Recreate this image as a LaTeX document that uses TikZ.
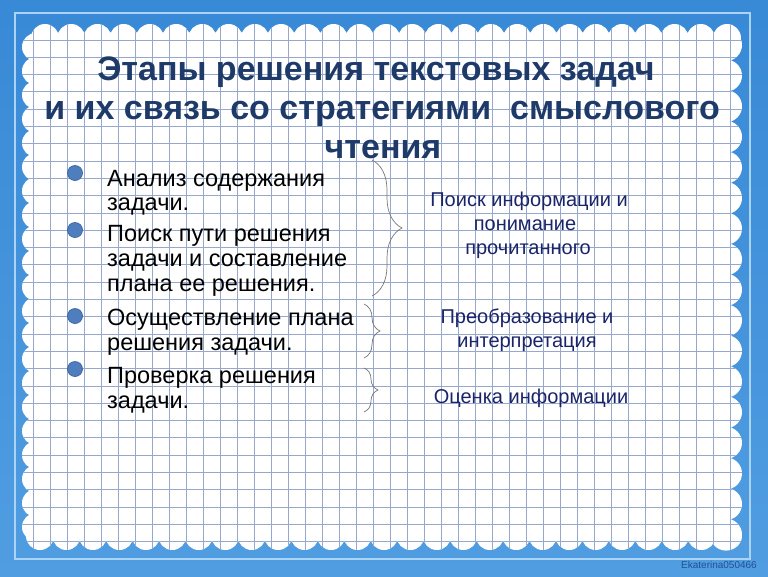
\documentclass[tikz,border=0pt]{standalone}
\usepackage{fontspec}
\setmainfont{Liberation Sans}
\usetikzlibrary{decorations.pathreplacing}
\definecolor{bgtop}{RGB}{56,137,214}
\definecolor{bgbot}{RGB}{80,157,225}
\definecolor{frameline}{RGB}{170,212,245}
\definecolor{gridc}{RGB}{150,168,205}
\definecolor{titlec}{RGB}{30,58,104}
\definecolor{rightc}{RGB}{26,36,105}
\definecolor{bulletc}{RGB}{79,126,190}
\definecolor{bulletd}{RGB}{60,100,160}
\definecolor{bracec}{RGB}{120,120,120}
\definecolor{markc}{RGB}{35,80,145}
\begin{document}
\begin{tikzpicture}[x=1pt,y=-1pt,
  titletext/.style={font=\fontsize{34}{39}\selectfont\bfseries, text=titlec, inner sep=0pt, anchor=base},
  itemtext/.style={font=\fontsize{23.5}{25.5}\selectfont, text=black, inner sep=0pt, anchor=base west},
  ruletext/.style={font=\fontsize{20}{24}\selectfont, text=rightc, inner sep=0pt, anchor=base},
  bulletdot/.style={circle, fill=bulletc, draw=bulletd, line width=0.7pt, minimum size=15pt, inner sep=0pt},
  bracelink/.style={draw=bracec, line width=0.7pt, decorate, decoration={brace, amplitude=#1}},
  gridline/.style={draw=gridc, line width=0.9pt},
]
\useasboundingbox (0,0) rectangle (768,576);
\shade[top color=bgtop, bottom color=bgbot] (0,0) rectangle (768,576);
\draw[frameline, line width=1.2pt] (15,13) rectangle (750,559);

% paper: rectangle + scallops
\fill[white] (36,38) rectangle (728,536);
\fill[white]
  foreach \i in {0,...,26} { (45+26.23*\i,38) circle (14) }
  foreach \i in {0,...,26} { (40+26.46*\i,536) circle (14) }
  foreach \i in {0,...,20} { (36,47+24*\i) circle (14) }
  foreach \i in {0,...,16} { (726,45+30.6*\i) circle (16) };

% grid clipped to rectangle
\begin{scope}
  \clip (36,38) rectangle (728,536);
  \foreach \k in {0,...,41} \draw[gridline] (33+17*\k,20) -- (33+17*\k,556);
  \foreach \k in {0,...,29} \draw[gridline] (18,40+17.3*\k) -- (746,40+17.3*\k);
\end{scope}
% grid clipped to scallops
\begin{scope}
  \clip
  foreach \i in {0,...,26} { (45+26.23*\i,38) circle (14) }
  foreach \i in {0,...,26} { (40+26.46*\i,536) circle (14) }
  foreach \i in {0,...,20} { (36,47+24*\i) circle (14) }
  foreach \i in {0,...,16} { (726,45+30.6*\i) circle (16) };
  \foreach \k in {0,...,41} \draw[gridline] (33+17*\k,20) -- (33+17*\k,556);
  \foreach \k in {0,...,29} \draw[gridline] (18,40+17.3*\k) -- (746,40+17.3*\k);
\end{scope}

% title
\node[titletext] (title1) at (376,80) {Этапы решения текстовых задач};
\node[titletext] (title2) at (382,119) {и их связь со стратегиями\ \ смыслового};
\node[titletext] (title3) at (383,158) {чтения};

% bullets
\node[bulletdot] (b1) at (75,173) {};
\node[bulletdot] (b2) at (75,230) {};
\node[bulletdot] (b3) at (75,316) {};
\node[bulletdot] (b4) at (75,369) {};

% items
\node[itemtext] (s1a) at (107,186) {Анализ содержания};
\node[itemtext] (s1b) at (107,210) {задачи.};
\node[itemtext] (s2a) at (107,241) {Поиск пути решения};
\node[itemtext] (s2b) at (107,266) {задачи и составление};
\node[itemtext] (s2c) at (107,291) {плана ее решения.};
\node[itemtext] (s3a) at (107,325) {Осуществление плана};
\node[itemtext] (s3b) at (107,350) {решения задачи.};
\node[itemtext] (s4a) at (107,383) {Проверка решения};
\node[itemtext] (s4b) at (107,408) {задачи.};

% braces
\coordinate (br1t) at (372,160);
\coordinate (br1b) at (372,296);
\coordinate (br2t) at (364,304);
\coordinate (br2b) at (364,358);
\coordinate (br3t) at (364,368);
\coordinate (br3b) at (364,412);
\draw[bracelink=30] (br1t) -- (br1b);
\draw[bracelink=16] (br2t) -- (br2b);
\draw[bracelink=14] (br3t) -- (br3b);

% right texts
\node[ruletext] (r1a) at (529,206) {Поиск информации и};
\node[ruletext] (r1b) at (525,230) {понимание};
\node[ruletext] (r1c) at (528,254) {прочитанного};
\node[ruletext] (r2a) at (527,323) {Преобразование и};
\node[ruletext] (r2b) at (527,347) {интерпретация};
\node[ruletext] (r3) at (531,403) {Оценка информации};

% watermark
\node[font=\fontsize{10}{12}\selectfont, text=markc, anchor=base east, inner sep=0pt] (mark) at (757,568) {Ekaterina050466};
\end{tikzpicture}
\end{document}
